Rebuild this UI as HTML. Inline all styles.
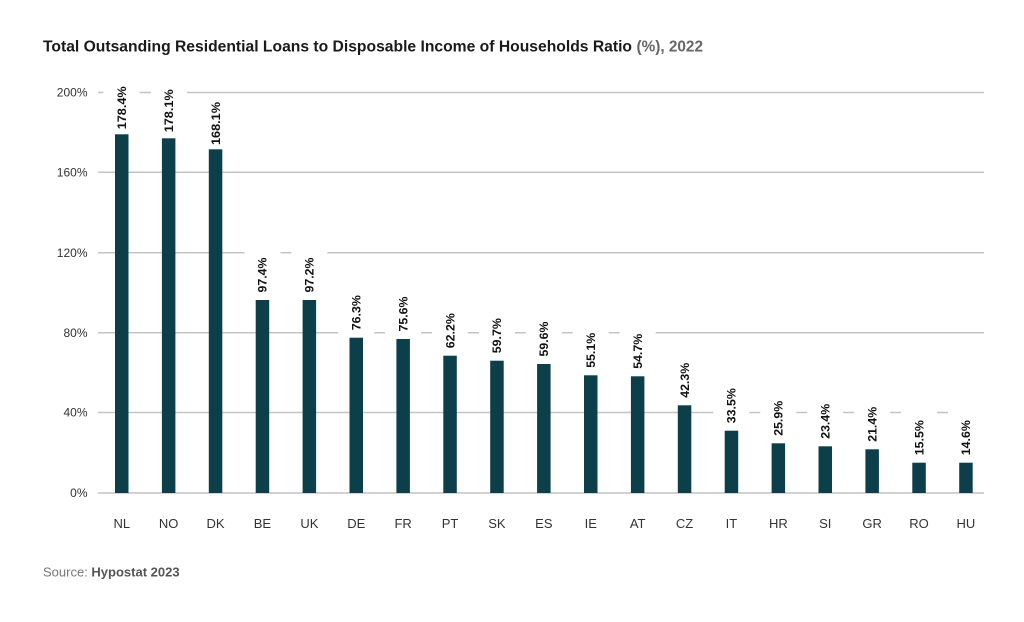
<!DOCTYPE html>
<html><head><meta charset="utf-8"><style>
html,body{margin:0;padding:0;background:#fff;}
svg{display:block;}
text{font-family:"Liberation Sans",sans-serif;}
</style></head><body>
<svg width="1024" height="622" viewBox="0 0 1024 622" xmlns="http://www.w3.org/2000/svg">
<rect width="1024" height="622" fill="#fff"/>
<text x="43" y="51.5" font-size="16" font-weight="bold" fill="#1a1a1a" textLength="589" lengthAdjust="spacingAndGlyphs">Total Outsanding Residential Loans to Disposable Income of Households Ratio</text>
<text x="636.5" y="51.5" font-size="16" font-weight="bold" fill="#666" textLength="66.5" lengthAdjust="spacingAndGlyphs">(%), 2022</text>

<g stroke="#c4c4c4" stroke-width="1.5">
<line x1="98" x2="984" y1="92.5" y2="92.5"/>
<line x1="98" x2="984" y1="172.2" y2="172.2"/>
<line x1="98" x2="984" y1="252.7" y2="252.7"/>
<line x1="98" x2="984" y1="332.8" y2="332.8"/>
<line x1="98" x2="984" y1="412.5" y2="412.5"/>
<line x1="98" x2="984" y1="493" y2="493"/>
</g>
<g font-size="12" fill="#333" text-anchor="end">
<text x="87.5" y="96.7">200%</text>
<text x="87.5" y="176.4">160%</text>
<text x="87.5" y="256.9">120%</text>
<text x="87.5" y="337">80%</text>
<text x="87.5" y="416.7">40%</text>
<text x="87.5" y="497.2">0%</text>
</g>

<g fill="#fff">
<rect x="103.5" y="77" width="36" height="57.3"/>
<rect x="151" y="81" width="36" height="57.3"/>
<rect x="197.5" y="94" width="36" height="55.3"/>
<rect x="244.5" y="248" width="36" height="52"/>
<rect x="291.3" y="248" width="36" height="52"/>
<rect x="338.2" y="285.7" width="36" height="52"/>
<rect x="385.1" y="287" width="36" height="52"/>
<rect x="432" y="303.7" width="36" height="52"/>
<rect x="479" y="308.7" width="36" height="52"/>
<rect x="525.8" y="312" width="36" height="52"/>
<rect x="572.7" y="323.3" width="36" height="52"/>
<rect x="619.6" y="324.3" width="36" height="52"/>
<rect x="666.5" y="353.3" width="36" height="52"/>
<rect x="713.4" y="378.7" width="36" height="52"/>
<rect x="760.3" y="391.3" width="36" height="52"/>
<rect x="807.2" y="394.3" width="36" height="52"/>
<rect x="854.1" y="397.3" width="36" height="52"/>
<rect x="901" y="410.7" width="36" height="52"/>
<rect x="948" y="410.7" width="36" height="52"/>
</g>

<g fill="#0d3f4a">
<rect x="115" y="134.3" width="13.5" height="358.7"/>
<rect x="161.9" y="138.3" width="13.5" height="354.7"/>
<rect x="208.8" y="149.3" width="13.5" height="343.7"/>
<rect x="255.7" y="300" width="13.5" height="193"/>
<rect x="302.6" y="300" width="13.5" height="193"/>
<rect x="349.5" y="337.7" width="13.5" height="155.3"/>
<rect x="396.4" y="339" width="13.5" height="154"/>
<rect x="443.3" y="355.7" width="13.5" height="137.3"/>
<rect x="490.2" y="360.7" width="13.5" height="132.3"/>
<rect x="537.1" y="364" width="13.5" height="129"/>
<rect x="584" y="375.3" width="13.5" height="117.7"/>
<rect x="630.9" y="376.3" width="13.5" height="116.7"/>
<rect x="677.8" y="405.3" width="13.5" height="87.7"/>
<rect x="724.7" y="430.7" width="13.5" height="62.3"/>
<rect x="771.6" y="443.3" width="13.5" height="49.7"/>
<rect x="818.5" y="446.3" width="13.5" height="46.7"/>
<rect x="865.4" y="449.3" width="13.5" height="43.7"/>
<rect x="912.3" y="462.7" width="13.5" height="30.3"/>
<rect x="959.2" y="462.7" width="13.5" height="30.3"/>
</g>

<g font-size="12" font-weight="bold" fill="#111" lengthAdjust="spacingAndGlyphs">
<text transform="translate(121.75,129.3) rotate(-90)" dy="4.2" textLength="43" lengthAdjust="spacingAndGlyphs">178.4%</text>
<text transform="translate(168.65,132.3) rotate(-90)" dy="4.2" textLength="43" lengthAdjust="spacingAndGlyphs">178.1%</text>
<text transform="translate(215.55,145) rotate(-90)" dy="4.2" textLength="43" lengthAdjust="spacingAndGlyphs">168.1%</text>
<text transform="translate(262.45,292.5) rotate(-90)" dy="4.2" textLength="35" lengthAdjust="spacingAndGlyphs">97.4%</text>
<text transform="translate(309.35,292.5) rotate(-90)" dy="4.2" textLength="35" lengthAdjust="spacingAndGlyphs">97.2%</text>
<text transform="translate(356.25,330.2) rotate(-90)" dy="4.2" textLength="35" lengthAdjust="spacingAndGlyphs">76.3%</text>
<text transform="translate(403.15,331.5) rotate(-90)" dy="4.2" textLength="35" lengthAdjust="spacingAndGlyphs">75.6%</text>
<text transform="translate(450.05,348.2) rotate(-90)" dy="4.2" textLength="35" lengthAdjust="spacingAndGlyphs">62.2%</text>
<text transform="translate(496.95,353.2) rotate(-90)" dy="4.2" textLength="35" lengthAdjust="spacingAndGlyphs">59.7%</text>
<text transform="translate(543.85,356.5) rotate(-90)" dy="4.2" textLength="35" lengthAdjust="spacingAndGlyphs">59.6%</text>
<text transform="translate(590.75,367.8) rotate(-90)" dy="4.2" textLength="35" lengthAdjust="spacingAndGlyphs">55.1%</text>
<text transform="translate(637.65,368.8) rotate(-90)" dy="4.2" textLength="35" lengthAdjust="spacingAndGlyphs">54.7%</text>
<text transform="translate(684.55,397.8) rotate(-90)" dy="4.2" textLength="35" lengthAdjust="spacingAndGlyphs">42.3%</text>
<text transform="translate(731.45,423.2) rotate(-90)" dy="4.2" textLength="35" lengthAdjust="spacingAndGlyphs">33.5%</text>
<text transform="translate(778.35,435.8) rotate(-90)" dy="4.2" textLength="35" lengthAdjust="spacingAndGlyphs">25.9%</text>
<text transform="translate(825.25,438.8) rotate(-90)" dy="4.2" textLength="35" lengthAdjust="spacingAndGlyphs">23.4%</text>
<text transform="translate(872.15,441.8) rotate(-90)" dy="4.2" textLength="35" lengthAdjust="spacingAndGlyphs">21.4%</text>
<text transform="translate(919.05,455.2) rotate(-90)" dy="4.2" textLength="35" lengthAdjust="spacingAndGlyphs">15.5%</text>
<text transform="translate(965.95,455.2) rotate(-90)" dy="4.2" textLength="35" lengthAdjust="spacingAndGlyphs">14.6%</text>
</g>

<g font-size="13" fill="#333" text-anchor="middle">
<text x="121.75" y="528">NL</text>
<text x="168.65" y="528">NO</text>
<text x="215.55" y="528">DK</text>
<text x="262.45" y="528">BE</text>
<text x="309.35" y="528">UK</text>
<text x="356.25" y="528">DE</text>
<text x="403.15" y="528">FR</text>
<text x="450.05" y="528">PT</text>
<text x="496.95" y="528">SK</text>
<text x="543.85" y="528">ES</text>
<text x="590.75" y="528">IE</text>
<text x="637.65" y="528">AT</text>
<text x="684.55" y="528">CZ</text>
<text x="731.45" y="528">IT</text>
<text x="778.35" y="528">HR</text>
<text x="825.25" y="528">SI</text>
<text x="872.15" y="528">GR</text>
<text x="919.05" y="528">RO</text>
<text x="965.95" y="528">HU</text>
</g>

<text x="43" y="576.5" font-size="13" fill="#777">Source: <tspan font-weight="bold" fill="#555">Hypostat 2023</tspan></text>
</svg>
</body></html>
